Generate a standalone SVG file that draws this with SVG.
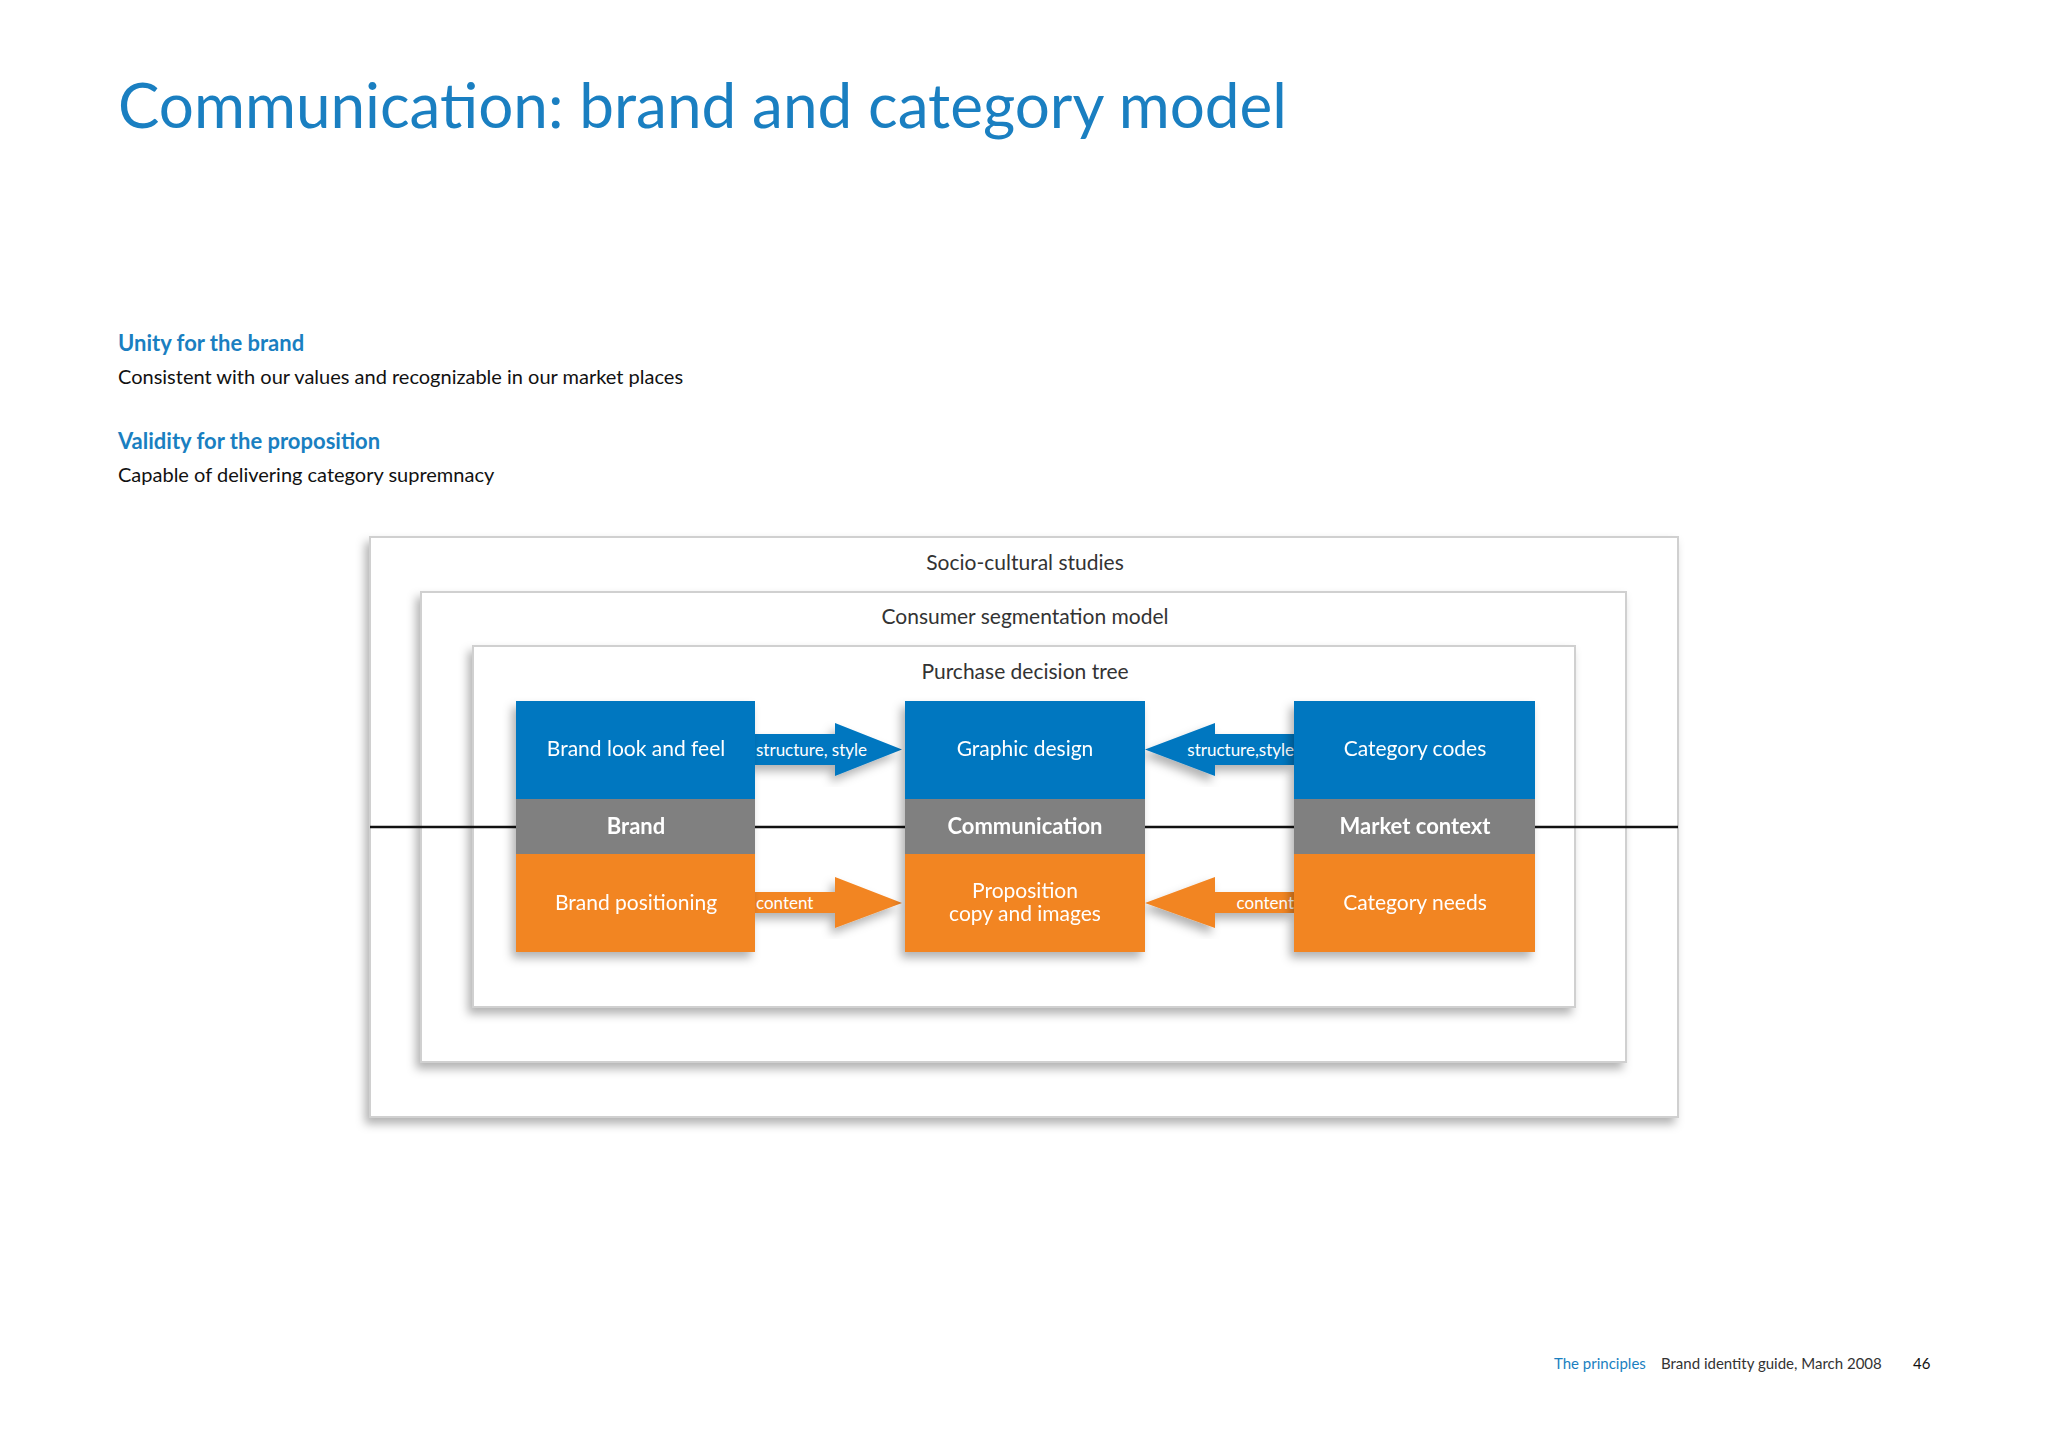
<svg xmlns="http://www.w3.org/2000/svg" width="2048" height="1448" viewBox="0 0 2048 1448">
<defs>
<filter id="sh" x="-10%" y="-10%" width="120%" height="130%"><feDropShadow dx="-4" dy="6" stdDeviation="5" flood-color="#000" flood-opacity="0.3"/></filter>
<style>
text{font-family:Lato,"Open Sans",sans-serif}
.frame{fill:#fff;stroke:#d0d0d0;stroke-width:2;filter:url(#sh)}
.ft{font-size:21px;fill:#333;text-anchor:middle}
.nl{font-size:21px;fill:#fff;text-anchor:middle}
.nb{font-size:22px;fill:#fff;font-weight:bold;text-anchor:middle}
.al{font-size:17px;fill:#fff}
.blue{fill:#0077C0}.org{fill:#F28522}.gray{fill:#808080}
</style>
</defs>
<rect width="2048" height="1448" fill="#fff"/>
<text x="118" y="128" font-size="62" fill="#1a7fc1">Communication: brand and category model</text>
<text x="118" y="351" font-size="22" font-weight="bold" fill="#1a7fc1">Unity for the brand</text>
<text x="118" y="384" font-size="20" fill="#111">Consistent with our values and recognizable in our market places</text>
<text x="118" y="449" font-size="22" font-weight="bold" fill="#1a7fc1">Validity for the proposition</text>
<text x="118" y="482" font-size="20" fill="#111">Capable of delivering category supremnacy</text>
<g id="frames">
<rect class="frame" x="370" y="537" width="1308" height="580"/>
<text class="ft" x="1025" y="570">Socio-cultural studies</text>
<rect class="frame" x="421" y="592" width="1205" height="470"/>
<text class="ft" x="1025" y="624">Consumer segmentation model</text>
<rect class="frame" x="473" y="646" width="1102" height="361"/>
<text class="ft" x="1025" y="679">Purchase decision tree</text>
</g>
<g id="connectors">
<line x1="370" y1="827" x2="1678" y2="827" stroke="#111" stroke-width="2.5"/>
<polygon class="blue" filter="url(#sh)" points="755,734 835,734 835,723 902,749.5 835,776 835,765 755,765"/>
<text class="al" x="756" y="756">structure, style</text>
<polygon class="blue" filter="url(#sh)" points="1294,734 1215,734 1215,723 1145,749.5 1215,776 1215,765 1294,765"/>
<text class="al" x="1294" y="756" text-anchor="end">structure,style</text>
<polygon class="org" filter="url(#sh)" points="755,892 835,892 835,877 902,903 835,928 835,913 755,913"/>
<text class="al" x="756" y="909">content</text>
<polygon class="org" filter="url(#sh)" points="1294,892 1215,892 1215,877 1145,903 1215,928 1215,913 1294,913"/>
<text class="al" x="1294" y="909" text-anchor="end">content</text>
</g>
<g id="brand" filter="url(#sh)">
<rect class="blue" x="516" y="701" width="239" height="98"/>
<rect class="gray" x="516" y="799" width="239" height="55"/>
<rect class="org" x="516" y="854" width="239" height="98"/>
<text class="nl" x="636" y="756">Brand look and feel</text>
<text class="nb" x="636" y="834">Brand</text>
<text class="nl" x="636" y="910">Brand positioning</text>
</g>
<g id="communication" filter="url(#sh)">
<rect class="blue" x="905" y="701" width="240" height="98"/>
<rect class="gray" x="905" y="799" width="240" height="55"/>
<rect class="org" x="905" y="854" width="240" height="98"/>
<text class="nl" x="1025" y="756">Graphic design</text>
<text class="nb" x="1025" y="834">Communication</text>
<text class="nl" x="1025" y="898">Proposition</text>
<text class="nl" x="1025" y="921">copy and images</text>
</g>
<g id="market" filter="url(#sh)">
<rect class="blue" x="1294" y="701" width="241" height="98"/>
<rect class="gray" x="1294" y="799" width="241" height="55"/>
<rect class="org" x="1294" y="854" width="241" height="98"/>
<text class="nl" x="1415" y="756">Category codes</text>
<text class="nb" x="1415" y="834">Market context</text>
<text class="nl" x="1415" y="910">Category needs</text>
</g>
<text x="1554" y="1369" font-size="15" fill="#1a7fc1">The principles</text>
<text x="1661" y="1369" font-size="15" fill="#333">Brand identity guide, March 2008</text>
<text x="1913" y="1369" font-size="15" fill="#111">46</text>
</svg>
